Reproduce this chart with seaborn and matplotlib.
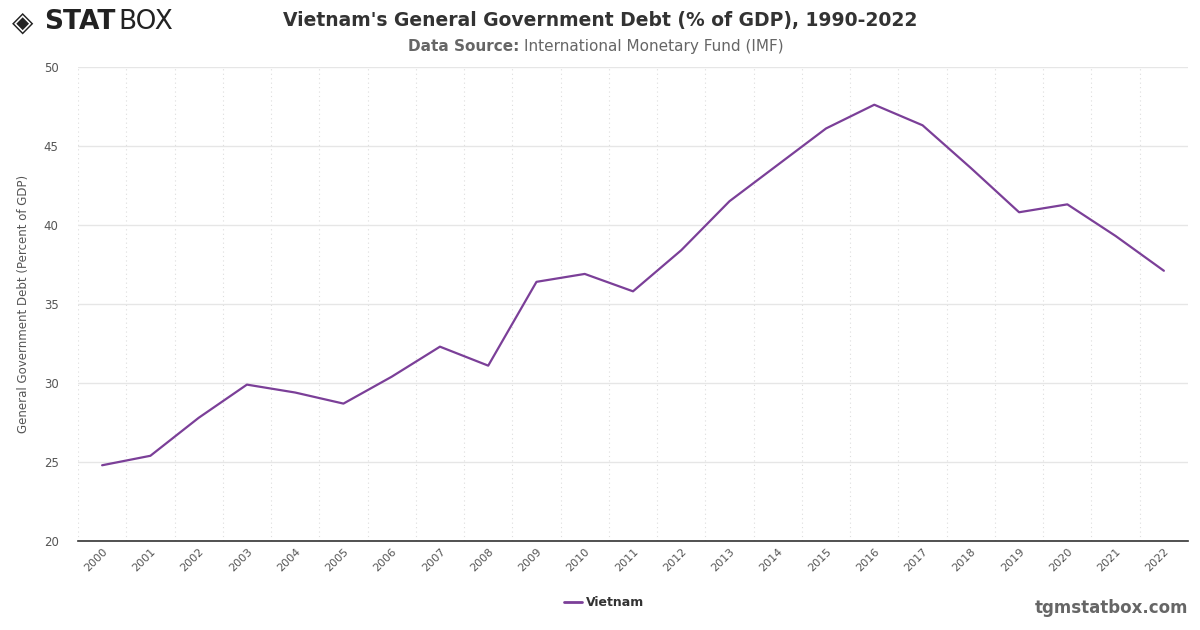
import pandas as pd
import matplotlib.pyplot as plt
import seaborn as sns
import numpy as np

# Values
years = list(range(2000, 2023))
debt = [24.8, 25.4, 27.8, 29.9, 29.4, 28.7, 30.4, 32.3, 31.1, 36.4, 36.9, 35.8,
        38.4, 41.5, 43.8, 46.1, 47.6, 46.3, 43.6, 40.8, 41.3, 39.3, 37.1]
country = 'Vietnam'

data = pd.DataFrame({'Year': years, 'Debt': debt, 'Country': country})

sns.set_style('white')
plt.rcParams['font.family'] = ['DejaVu Sans']

fig = plt.figure(figsize=(12, 6.3), dpi=100)
ax = fig.add_axes([0.065, 0.141, 0.925, 0.753])

line_color = '#7B3F98'
sns.lineplot(x='Year', y='Debt', data=data, color=line_color, linewidth=1.6, ax=ax, legend=False)

ax.set_xlim(1999.5, 2022.5)
ax.set_ylim(20, 50)
ax.set_yticks(range(20, 51, 5))
ax.set_xticks(years)
ax.set_xticklabels([str(y) for y in years], rotation=45, ha='right', rotation_mode='anchor',
                   fontsize=8, color='#555555')
ax.set_xticks([y + 0.5 for y in years[:-1]] + [1999.5], minor=True)
ax.tick_params(axis='y', labelsize=8.5, colors='#555555', length=0, pad=14)
ax.tick_params(axis='x', which='both', length=0, pad=4)

ax.grid(axis='y', which='major', color='#e6e6e6', linewidth=1)
ax.grid(axis='x', which='minor', color='#dddddd', linestyle=(0, (1, 3)), linewidth=0.8)
ax.grid(axis='x', which='major', visible=False)

for s in ['top', 'right', 'left']:
    ax.spines[s].set_visible(False)
ax.spines['bottom'].set_color('#333333')
ax.spines['bottom'].set_linewidth(1.2)

ax.set_xlabel('')
ax.set_ylabel('General Government Debt (Percent of GDP)', fontsize=8.5, color='#555555', labelpad=10)

# Title and subtitle
fig.text(0.5, 0.968, "Vietnam's General Government Debt (% of GDP), 1990-2022",
         ha='center', va='center', fontsize=13.5, fontweight='bold', color='#333333')
fig.text(0.437, 0.926, 'Data Source: ', ha='right', va='center', fontsize=11,
         fontweight='bold', color='#666666')
fig.text(0.437, 0.926, 'International Monetary Fund (IMF)', ha='left', va='center',
         fontsize=11, color='#666666')

# Logo
fig.text(0.01, 0.965, '◈', ha='left', va='center', fontsize=20, color='#222222')
fig.text(0.037, 0.965, 'STAT', ha='left', va='center', fontsize=19, fontweight='black', color='#222222')
fig.text(0.099, 0.965, 'BOX', ha='left', va='center', fontsize=19, color='#222222')

# Legend
fig.lines.append(plt.Line2D([0.470, 0.485], [0.044, 0.044], transform=fig.transFigure,
                            color=line_color, linewidth=2))
fig.text(0.488, 0.044, country, ha='left', va='center', fontsize=9, fontweight='bold', color='#333333')

# Watermark
fig.text(0.99, 0.02, 'tgmstatbox.com', ha='right', va='bottom', fontsize=12,
         fontweight='bold', color='#666666')

fig.savefig('out.png', dpi=100)
